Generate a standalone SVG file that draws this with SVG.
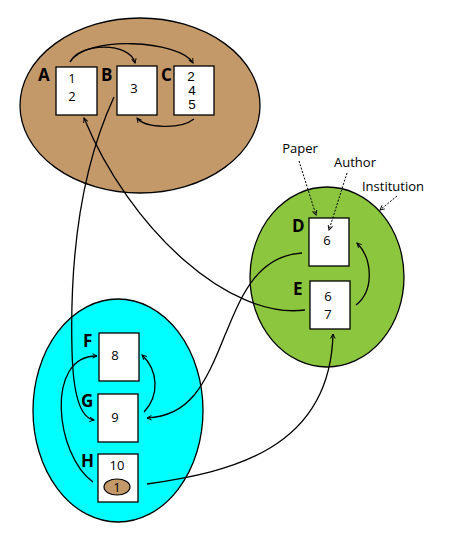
<svg xmlns="http://www.w3.org/2000/svg" width="451" height="538" viewBox="0 0 451 538">
<style>
.box{fill:#fff;stroke:#000;stroke-width:1.3}
.lbl{font-family:"Open Sans","Liberation Sans",sans-serif;font-weight:bold;font-size:17px;fill:#000}
.num{font-family:"Open Sans","Liberation Sans",sans-serif;font-size:13px;fill:#000;text-anchor:middle}
.num2{font-family:"Liberation Sans","Open Sans",sans-serif;font-size:13.5px;fill:#000;text-anchor:middle}
.cap{font-family:"Open Sans","Liberation Sans",sans-serif;font-size:13px;fill:#000;text-anchor:middle}
.con{fill:none;stroke:#000;stroke-width:1.3;marker-end:url(#ah)}
.dot{fill:none;stroke:#000;stroke-width:1;stroke-dasharray:2,1.5;marker-end:url(#ah)}
</style>
<defs>
<marker id="ah" viewBox="0 0 8 8" refX="7" refY="4" markerWidth="6" markerHeight="6" orient="auto" markerUnits="userSpaceOnUse">
<path d="M1,1 L7,4 L1,7" fill="none" stroke="#000" stroke-width="1.3"/>
</marker>
</defs>
<g id="group-abc">
<ellipse cx="140" cy="105.5" rx="120" ry="87.5" fill="#c4996a" stroke="#000" stroke-width="1.3"/>
</g>
<g id="group-de">
<ellipse cx="327" cy="277" rx="77" ry="90" fill="#8cc63f" stroke="#000" stroke-width="1.3"/>
</g>
<g id="group-fgh">
<ellipse cx="118" cy="410.5" rx="85" ry="111.5" fill="#00ffff" stroke="#000" stroke-width="1.3"/>
</g>
<g id="node-A">
<rect class="box" x="56" y="67" width="41" height="48"/>
<text class="lbl" x="38" y="81">A</text>
<text class="num" x="72" y="83">1</text>
<text class="num" x="72" y="101">2</text>
</g>
<g id="node-B">
<rect class="box" x="117" y="66" width="40" height="49"/>
<text class="lbl" x="101" y="81">B</text>
<text class="num" x="134" y="93">3</text>
</g>
<g id="node-C">
<rect class="box" x="174" y="66" width="40" height="49"/>
<text class="lbl" x="161" y="81">C</text>
<text class="num2" x="191" y="81">2</text>
<text class="num2" x="192" y="95">4</text>
<text class="num2" x="192" y="109">5</text>
</g>
<g id="node-D">
<rect class="box" x="309" y="218" width="40" height="48"/>
<text class="lbl" x="292" y="232">D</text>
<text class="num" x="327" y="245">6</text>
</g>
<g id="node-E">
<rect class="box" x="310" y="281" width="40" height="48"/>
<text class="lbl" x="293" y="295">E</text>
<text class="num" x="328" y="301">6</text>
<text class="num" x="328" y="319">7</text>
</g>
<g id="node-F">
<rect class="box" x="99" y="333" width="40" height="48"/>
<text class="lbl" x="83" y="347">F</text>
<text class="num" x="115" y="360">8</text>
</g>
<g id="node-G">
<rect class="box" x="98" y="394" width="40" height="48"/>
<text class="lbl" x="81" y="407">G</text>
<text class="num" x="115" y="422">9</text>
</g>
<g id="node-H">
<rect class="box" x="98" y="454" width="40" height="48"/>
<text class="lbl" x="81" y="467">H</text>
<text class="num" x="117" y="470">10</text>
<ellipse cx="117" cy="487" rx="13" ry="8" fill="#c4996a" stroke="#000" stroke-width="1.2"/>
<text class="num" x="117" y="492">1</text>
</g>
<g id="captions">
<text class="cap" x="300" y="153">Paper</text>
<text class="cap" x="355" y="167">Author</text>
<text class="cap" x="393" y="191">Institution</text>
</g>
<g id="connectors">
<path class="con" d="M70,62 C80,42 130,42 135,63"/>
<path class="con" d="M70,62 C85,35 180,40 193,63"/>
<path class="con" d="M194,119 C180,130 145,128 137,118"/>
<path class="con" d="M305,310 C230,320 130,230 84,118"/>
<path class="con" d="M114,97 C78,175 70,270 72,350 C73,395 80,418 94,420"/>
<path class="con" d="M302,253 C255,256 240,300 225,335 C205,385 190,416 147,418"/>
<path class="con" d="M356,305 C375,290 372,258 357,243"/>
<path class="con" d="M144,412 C160,395 158,370 142,355"/>
<path class="con" d="M93,482 C55,455 45,355 97,356"/>
<path class="con" d="M147,484 C230,472 330,450 333,334"/>
<path class="dot" d="M299,161 L316,215"/>
<path class="dot" d="M347,173 L329,230"/>
<path class="dot" d="M397,196 L380,210"/>
</g>
</svg>
